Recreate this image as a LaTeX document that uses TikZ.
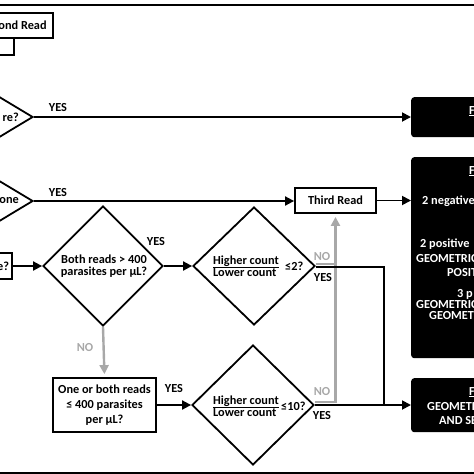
\documentclass[tikz,border=0pt]{standalone}
\usepackage{fontspec}
\setmainfont{Carlito}
\usetikzlibrary{arrows.meta,shapes.geometric}
\definecolor{lgray}{RGB}{168,168,168}
\begin{document}
\begin{tikzpicture}[x=1pt,y=-1pt,
  every node/.style={font=\fontsize{12.3}{14.5}\selectfont\bfseries, inner sep=0pt},
  box/.style={draw, line width=1.8pt, rectangle},
  dia/.style={draw, line width=1.8pt, diamond, inner sep=0pt},
  blk/.style={fill=black, rounded corners=3pt, rectangle, anchor=north west, minimum width=100pt},
  wtxt/.style={text=white, anchor=base west},
  arr/.style={line width=1.8pt, -{Triangle[length=9pt,width=9pt]}},
  gline/.style={line width=2.4pt, draw=lgray},
  garr/.style={line width=2.4pt, draw=lgray, -{Triangle[length=9pt,width=9pt]}, shorten >=3pt},
  lbl/.style={text=black},
  glbl/.style={text=lgray}]
\useasboundingbox (0,0) rectangle (474,474);
\clip (0,0) rectangle (474,474);

% outer frame
\node[draw, line width=2pt, minimum width=540pt, minimum height=468pt, anchor=north west] (frame) at (-30,4) {};

% top-left boxes
\node[box, minimum width=78pt, minimum height=25pt] (second) at (14,25.5) {Second Read};
\node[box, minimum width=28pt, minimum height=17pt] (under) at (0,46.5) {};

% left diamonds
\node[dia, minimum width=126pt, minimum height=76pt] (d1) at (-30,117) {};
\node[anchor=east] (d1t) at (19,117) {re?};
\node[dia, minimum width=126pt, minimum height=76pt] (d2) at (-30,201) {};
\node[anchor=east] (d2t) at (19,201) {one};

% left box
\node[box, minimum height=26pt, text width=40pt, align=right, inner xsep=3pt, anchor=east] (b0) at (13,266) {e?};

% central diamonds
\node[dia, minimum width=120pt, minimum height=120pt] (d3) at (103,266) {};
\node[align=center, font=\fontsize{12.3}{12}\selectfont\bfseries] (d3t) at (104,266) {Both reads > 400\\parasites per µL?};

\node[dia, minimum width=122pt, minimum height=118pt] (d4) at (254,266) {};
\node[align=left, anchor=east, font=\fontsize{12.3}{12.5}\selectfont\bfseries] (d4t) at (279,266) {\underline{Higher count}\\Lower count};
\node[anchor=west] (d4r) at (285,266) {≤2?};

\node[dia, minimum width=122pt, minimum height=120pt] (d5) at (253,405) {};
\node[align=left, anchor=east, font=\fontsize{12.3}{12.5}\selectfont\bfseries] (d5t) at (279,406) {\underline{Higher count}\\Lower count};
\node[anchor=west] (d5r) at (281,406) {≤10?};

% one or both box
\node[box, minimum width=103pt, minimum height=54pt, align=center, font=\fontsize{12.3}{15}\selectfont\bfseries] (q) at (104.5,405) {One or both reads\\≤ 400 parasites\\per µL?};

% third read
\node[box, minimum width=81pt, minimum height=25pt] (third) at (335.5,200.5) {Third Read};

% black result boxes
\node[blk, minimum height=40pt] (r1) at (411,97) {};
\node[blk, minimum height=201pt] (r2) at (411,157) {};
\node[blk, minimum height=54pt] (r3) at (411,378) {};

\node[wtxt] (r1a) at (469,114) {\underline{F\hphantom{inal}}};
\node[wtxt] (r2a) at (469,174) {\underline{F\hphantom{inal}}};
\node[wtxt] (r2b) at (422,204) {2 negative};
\node[wtxt] (r2c) at (420,247) {2 positive};
\node[wtxt] (r2d) at (416,262) {GEOMETRIC};
\node[wtxt] (r2e) at (447,276) {POSIT};
\node[wtxt] (r2f) at (457,297) {3 p};
\node[wtxt] (r2g) at (416,308) {GEOMETRIC};
\node[wtxt] (r2h) at (429,319) {GEOMETRIC};
\node[wtxt] (r3a) at (469,395) {\underline{F\hphantom{inal}}};
\node[wtxt] (r3b) at (427,410) {GEOMETRIC};
\node[wtxt] (r3c) at (439,424) {AND SE};

% gray connectors
\draw[gline] ([yshift=2pt]d4.east) -- ([yshift=2pt]d4.east -| third.south);
\draw[garr] ([yshift=3pt]d5.east) -| (third.south);
\draw[garr] (d3.south) -- (q.north);

% black connectors
\coordinate (jn) at (384,267);
\draw[arr] (d1.east) -- (d1.east -| r1.west);
\draw[arr] (d2.east) -- (d2.east -| third.west);
\draw[arr] (third.east) -- (third.east -| r2.west);
\draw[arr] (b0.east) -- (b0.east -| d3.west);
\draw[arr] (d3.east) -- (d4.west);
\draw[arr] (q.east) -- (q.east -| d5.west);
\draw[arr] (d5.east) -- (d5.east -| r3.west);
\draw[line width=1.8pt] ([yshift=-1pt]d4.east) -- (jn) -- (jn |- r3.west);

% labels
\node[lbl] (y1) at (58,108) {YES};
\node[lbl] (y2) at (58,193) {YES};
\node[lbl] (y3) at (156,242) {YES};
\node[lbl] (y4) at (323,278) {YES};
\node[glbl] (n4) at (322,257) {NO};
\node[lbl] (y5) at (322,416) {YES};
\node[glbl] (n5) at (322,392) {NO};
\node[glbl] (n3) at (85,348) {NO};
\node[lbl] (y6) at (174,389) {YES};
\end{tikzpicture}
\end{document}
